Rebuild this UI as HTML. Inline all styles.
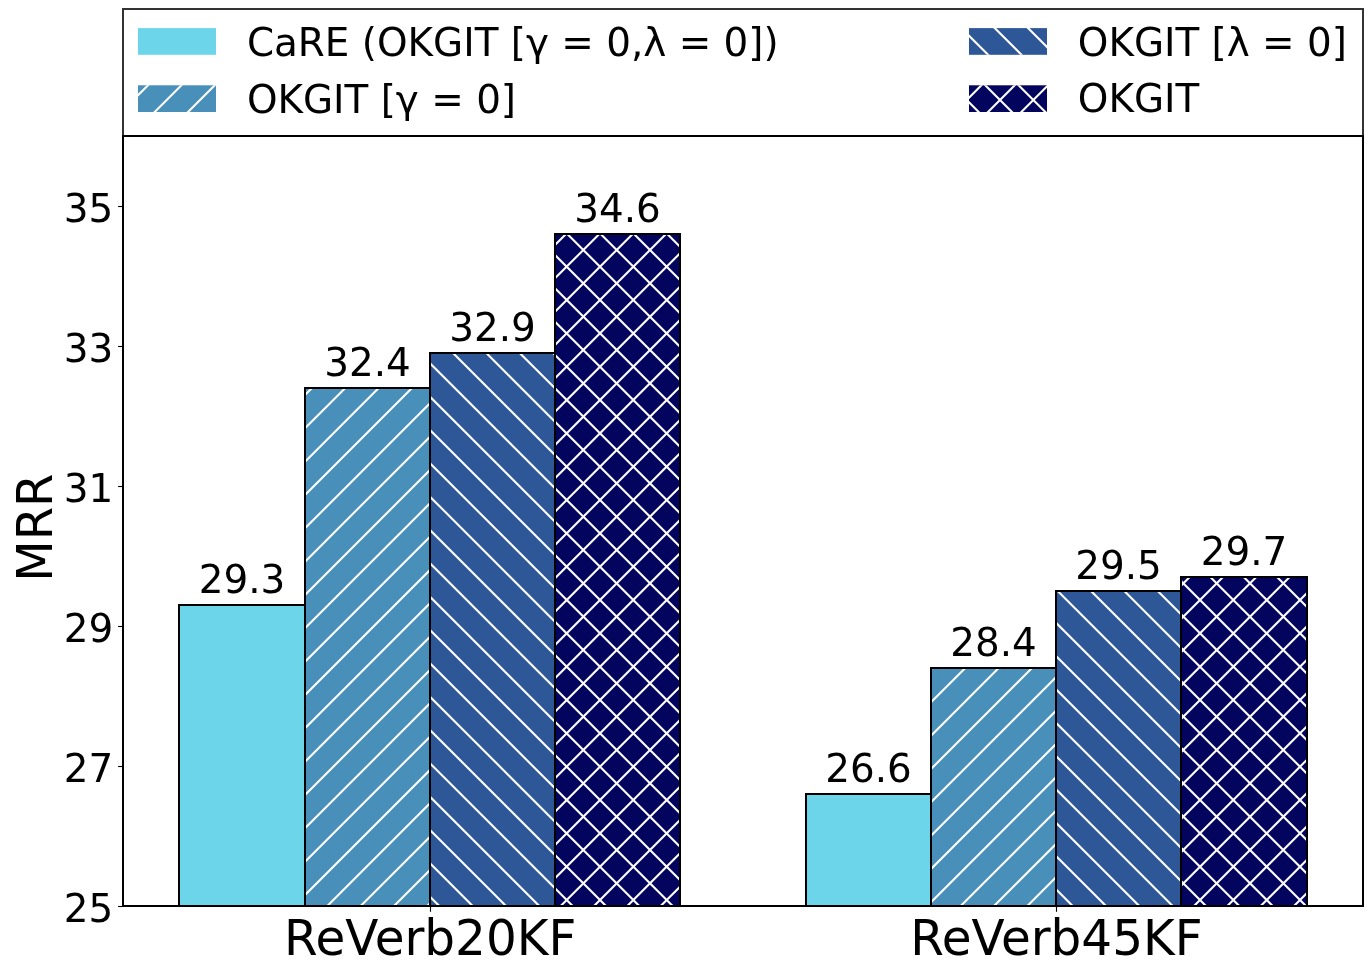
<!DOCTYPE html>
<html lang="en"><head><meta charset="utf-8"><title>MRR on ReVerb20KF / ReVerb45KF</title>
<style>html,body{margin:0;padding:0;background:#fff}body{width:1372px;height:974px;overflow:hidden}svg{display:block}text{font-family:"DejaVu Sans","Liberation Sans",sans-serif;fill:#000}</style>
</head><body>
<svg width="1372" height="974" viewBox="0 0 1372 974">
<rect width="1372" height="974" fill="#fff"/>
<defs>
<path id="hf" d="M-976.00 976L2.00 -2M-942.67 976L35.33 -2M-909.33 976L68.67 -2M-876.00 976L102.00 -2M-842.67 976L135.33 -2M-809.33 976L168.67 -2M-776.00 976L202.00 -2M-742.67 976L235.33 -2M-709.33 976L268.67 -2M-676.00 976L302.00 -2M-642.67 976L335.33 -2M-609.33 976L368.67 -2M-576.00 976L402.00 -2M-542.67 976L435.33 -2M-509.33 976L468.67 -2M-476.00 976L502.00 -2M-442.67 976L535.33 -2M-409.33 976L568.67 -2M-376.00 976L602.00 -2M-342.67 976L635.33 -2M-309.33 976L668.67 -2M-276.00 976L702.00 -2M-242.67 976L735.33 -2M-209.33 976L768.67 -2M-176.00 976L802.00 -2M-142.67 976L835.33 -2M-109.33 976L868.67 -2M-76.00 976L902.00 -2M-42.67 976L935.33 -2M-9.33 976L968.67 -2M24.00 976L1002.00 -2M57.33 976L1035.33 -2M90.67 976L1068.67 -2M124.00 976L1102.00 -2M157.33 976L1135.33 -2M190.67 976L1168.67 -2M224.00 976L1202.00 -2M257.33 976L1235.33 -2M290.67 976L1268.67 -2M324.00 976L1302.00 -2M357.33 976L1335.33 -2M390.67 976L1368.67 -2M424.00 976L1402.00 -2M457.33 976L1435.33 -2M490.67 976L1468.67 -2M524.00 976L1502.00 -2M557.33 976L1535.33 -2M590.67 976L1568.67 -2M624.00 976L1602.00 -2M657.33 976L1635.33 -2M690.67 976L1668.67 -2M724.00 976L1702.00 -2M757.33 976L1735.33 -2M790.67 976L1768.67 -2M824.00 976L1802.00 -2M857.33 976L1835.33 -2M890.67 976L1868.67 -2M924.00 976L1902.00 -2M957.33 976L1935.33 -2M990.67 976L1968.67 -2M1024.00 976L2002.00 -2M1057.33 976L2035.33 -2M1090.67 976L2068.67 -2M1124.00 976L2102.00 -2M1157.33 976L2135.33 -2M1190.67 976L2168.67 -2M1224.00 976L2202.00 -2M1257.33 976L2235.33 -2M1290.67 976L2268.67 -2M1324.00 976L2302.00 -2M1357.33 976L2335.33 -2M1390.67 976L2368.67 -2" fill="none" stroke="#fff" stroke-width="2.08"/>
<path id="hb" d="M-1002.00 -2L-24.00 976M-968.67 -2L9.33 976M-935.33 -2L42.67 976M-902.00 -2L76.00 976M-868.67 -2L109.33 976M-835.33 -2L142.67 976M-802.00 -2L176.00 976M-768.67 -2L209.33 976M-735.33 -2L242.67 976M-702.00 -2L276.00 976M-668.67 -2L309.33 976M-635.33 -2L342.67 976M-602.00 -2L376.00 976M-568.67 -2L409.33 976M-535.33 -2L442.67 976M-502.00 -2L476.00 976M-468.67 -2L509.33 976M-435.33 -2L542.67 976M-402.00 -2L576.00 976M-368.67 -2L609.33 976M-335.33 -2L642.67 976M-302.00 -2L676.00 976M-268.67 -2L709.33 976M-235.33 -2L742.67 976M-202.00 -2L776.00 976M-168.67 -2L809.33 976M-135.33 -2L842.67 976M-102.00 -2L876.00 976M-68.67 -2L909.33 976M-35.33 -2L942.67 976M-2.00 -2L976.00 976M31.33 -2L1009.33 976M64.67 -2L1042.67 976M98.00 -2L1076.00 976M131.33 -2L1109.33 976M164.67 -2L1142.67 976M198.00 -2L1176.00 976M231.33 -2L1209.33 976M264.67 -2L1242.67 976M298.00 -2L1276.00 976M331.33 -2L1309.33 976M364.67 -2L1342.67 976M398.00 -2L1376.00 976M431.33 -2L1409.33 976M464.67 -2L1442.67 976M498.00 -2L1476.00 976M531.33 -2L1509.33 976M564.67 -2L1542.67 976M598.00 -2L1576.00 976M631.33 -2L1609.33 976M664.67 -2L1642.67 976M698.00 -2L1676.00 976M731.33 -2L1709.33 976M764.67 -2L1742.67 976M798.00 -2L1776.00 976M831.33 -2L1809.33 976M864.67 -2L1842.67 976M898.00 -2L1876.00 976M931.33 -2L1909.33 976M964.67 -2L1942.67 976M998.00 -2L1976.00 976M1031.33 -2L2009.33 976M1064.67 -2L2042.67 976M1098.00 -2L2076.00 976M1131.33 -2L2109.33 976M1164.67 -2L2142.67 976M1198.00 -2L2176.00 976M1231.33 -2L2209.33 976M1264.67 -2L2242.67 976M1298.00 -2L2276.00 976M1331.33 -2L2309.33 976M1364.67 -2L2342.67 976M1398.00 -2L2376.00 976" fill="none" stroke="#fff" stroke-width="2.08"/>
<clipPath id="c3"><rect x="305" y="388.0000000000001" width="125.00" height="518.00"/></clipPath>
<clipPath id="c4"><rect x="931" y="668.0000000000001" width="125.00" height="238.00"/></clipPath>
<clipPath id="c5"><rect x="430" y="353.0000000000001" width="125.00" height="553.00"/></clipPath>
<clipPath id="c6"><rect x="1056" y="591.0" width="125.00" height="315.00"/></clipPath>
<clipPath id="c7"><rect x="555" y="233.9999999999999" width="125.00" height="672.00"/></clipPath>
<clipPath id="c8"><rect x="1181" y="577.0" width="126.00" height="329.00"/></clipPath>
<clipPath id="c10"><rect x="138" y="85.3" width="78.00" height="26.70"/></clipPath>
<clipPath id="c11"><rect x="969" y="28.1" width="78.00" height="26.70"/></clipPath>
<clipPath id="c12"><rect x="969" y="85.3" width="78.00" height="26.70"/></clipPath>
</defs>
<rect x="179" y="605.00" width="126.00" height="301.00" fill="#6CD5E9"/>
<rect x="806" y="794.00" width="125.00" height="112.00" fill="#6CD5E9"/>
<rect x="305" y="388.00" width="125.00" height="518.00" fill="#488FB9"/>
<use href="#hf" clip-path="url(#c3)"/>
<rect x="931" y="668.00" width="125.00" height="238.00" fill="#488FB9"/>
<use href="#hf" clip-path="url(#c4)"/>
<rect x="430" y="353.00" width="125.00" height="553.00" fill="#2E5798"/>
<use href="#hb" clip-path="url(#c5)"/>
<rect x="1056" y="591.00" width="125.00" height="315.00" fill="#2E5798"/>
<use href="#hb" clip-path="url(#c6)"/>
<rect x="555" y="234.00" width="125.00" height="672.00" fill="#03045E"/>
<use href="#hf" clip-path="url(#c7)"/>
<use href="#hb" clip-path="url(#c7)"/>
<rect x="1181" y="577.00" width="126.00" height="329.00" fill="#03045E"/>
<use href="#hf" clip-path="url(#c8)"/>
<use href="#hb" clip-path="url(#c8)"/>
<rect x="138" y="28.10" width="78.00" height="26.70" fill="#6CD5E9"/>
<rect x="138" y="85.30" width="78.00" height="26.70" fill="#488FB9"/>
<use href="#hf" clip-path="url(#c10)"/>
<rect x="969" y="28.10" width="78.00" height="26.70" fill="#2E5798"/>
<use href="#hb" clip-path="url(#c11)"/>
<rect x="969" y="85.30" width="78.00" height="26.70" fill="#03045E"/>
<use href="#hf" clip-path="url(#c12)"/>
<use href="#hb" clip-path="url(#c12)"/>
<rect x="179" y="605.00" width="126.00" height="301.00" fill="none" stroke="#000" stroke-width="2"/>
<rect x="806" y="794.00" width="125.00" height="112.00" fill="none" stroke="#000" stroke-width="2"/>
<rect x="305" y="388.00" width="125.00" height="518.00" fill="none" stroke="#000" stroke-width="2"/>
<rect x="931" y="668.00" width="125.00" height="238.00" fill="none" stroke="#000" stroke-width="2"/>
<rect x="430" y="353.00" width="125.00" height="553.00" fill="none" stroke="#000" stroke-width="2"/>
<rect x="1056" y="591.00" width="125.00" height="315.00" fill="none" stroke="#000" stroke-width="2"/>
<rect x="555" y="234.00" width="125.00" height="672.00" fill="none" stroke="#000" stroke-width="2"/>
<rect x="1181" y="577.00" width="126.00" height="329.00" fill="none" stroke="#000" stroke-width="2"/>
<line x1="118.1" x2="123" y1="906.5" y2="906.5" stroke="#000" stroke-width="1.11"/>
<line x1="118.1" x2="123" y1="766.5" y2="766.5" stroke="#000" stroke-width="1.11"/>
<line x1="118.1" x2="123" y1="626.5" y2="626.5" stroke="#000" stroke-width="1.11"/>
<line x1="118.1" x2="123" y1="486.5" y2="486.5" stroke="#000" stroke-width="1.11"/>
<line x1="118.1" x2="123" y1="346.5" y2="346.5" stroke="#000" stroke-width="1.11"/>
<line x1="118.1" x2="123" y1="206.5" y2="206.5" stroke="#000" stroke-width="1.11"/>
<line x1="430.5" x2="430.5" y1="906" y2="911.8" stroke="#000" stroke-width="1.11"/>
<line x1="1056.5" x2="1056.5" y1="906" y2="911.8" stroke="#000" stroke-width="1.11"/>
<rect x="123" y="9" width="1240" height="127" fill="none" stroke="#333" stroke-width="2"/>
<rect x="123" y="136" width="1240" height="770" fill="none" stroke="#000" stroke-width="2"/>
<text x="113.3" y="922.0" font-size="38.89" text-anchor="end">25</text>
<text x="113.3" y="782.0" font-size="38.89" text-anchor="end">27</text>
<text x="113.3" y="642.0" font-size="38.89" text-anchor="end">29</text>
<text x="113.3" y="502.0" font-size="38.89" text-anchor="end">31</text>
<text x="113.3" y="362.0" font-size="38.89" text-anchor="end">33</text>
<text x="113.3" y="222.0" font-size="38.89" text-anchor="end">35</text>
<text transform="translate(430.17 955) scale(0.997 1.0286)" font-size="48.61" text-anchor="middle">ReVerb20KF</text>
<text transform="translate(1056.43 955) scale(0.997 1.0286)" font-size="48.61" text-anchor="middle">ReVerb45KF</text>
<text transform="translate(52 526.1) rotate(-90) scale(0.988 1.0286)" font-size="48.61" text-anchor="middle" dx="-1.6">MRR</text>
<text x="242.00" y="592.8" font-size="38.89" text-anchor="middle">29.3</text>
<text x="367.50" y="375.8" font-size="38.89" text-anchor="middle">32.4</text>
<text x="492.50" y="340.8" font-size="38.89" text-anchor="middle">32.9</text>
<text x="617.50" y="221.8" font-size="38.89" text-anchor="middle">34.6</text>
<text x="868.50" y="781.8" font-size="38.89" text-anchor="middle">26.6</text>
<text x="993.50" y="655.8" font-size="38.89" text-anchor="middle">28.4</text>
<text x="1118.50" y="578.8" font-size="38.89" text-anchor="middle">29.5</text>
<text x="1244.00" y="564.8" font-size="38.89" text-anchor="middle">29.7</text>
<text x="246.9" y="56.1" font-size="38.89" xml:space="preserve">CaRE (OKGIT [γ = 0,λ = 0])</text>
<text x="246.9" y="113.4" font-size="38.89" xml:space="preserve">OKGIT [γ = 0]</text>
<text x="1077.8" y="56.1" font-size="38.89" xml:space="preserve">OKGIT [λ = 0]</text>
<text x="1077.8" y="112.0" font-size="38.89" xml:space="preserve">OKGIT</text>
</svg></body></html>
